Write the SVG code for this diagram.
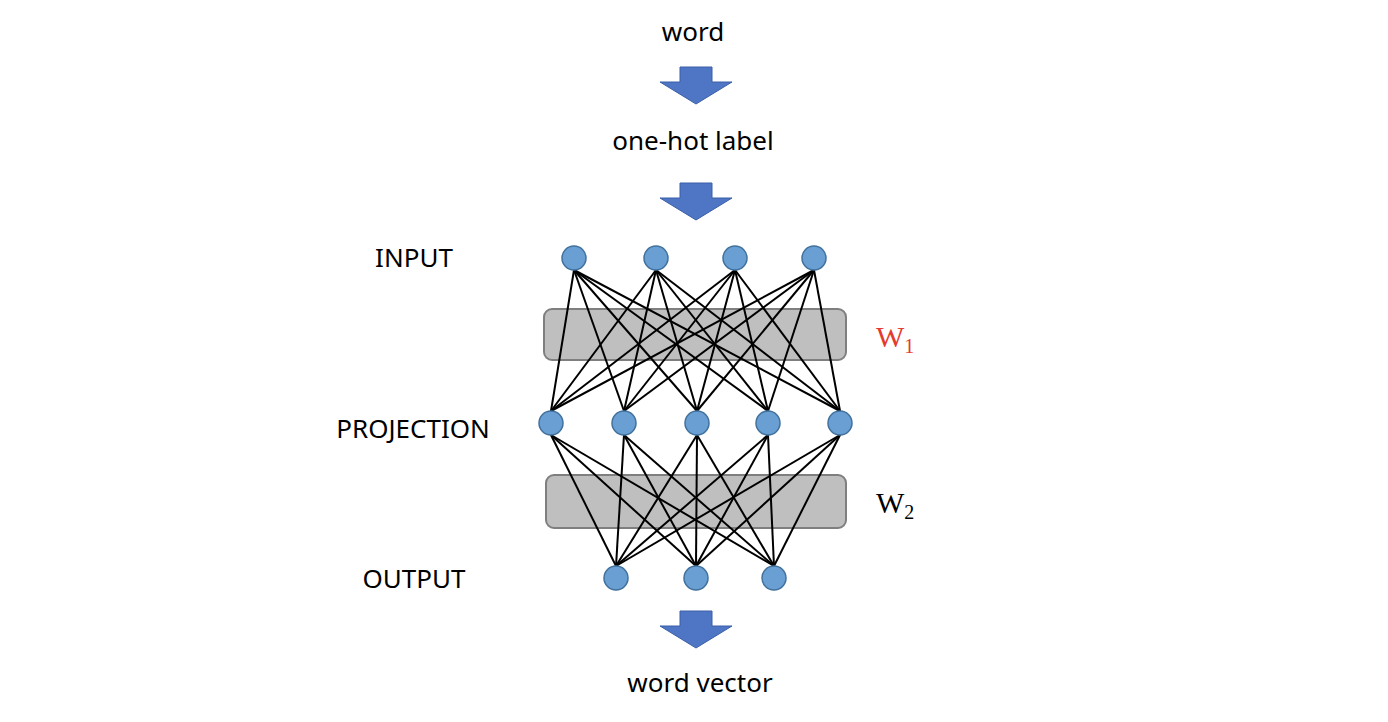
<svg xmlns="http://www.w3.org/2000/svg" width="1388" height="722" viewBox="0 0 1388 722">
<style>
.t{font-family:"Microsoft YaHei","Noto Sans","Liberation Sans",sans-serif;font-size:26px;fill:#000;text-anchor:middle}
.n{fill:#6a9fd4;stroke:#41719c;stroke-width:1.5}
.b{fill:#bfbfbf;stroke:#7f7f7f;stroke-width:2}
.ar{fill:#4f76c4;stroke:#3a5fa8;stroke-width:1}
.c line{stroke:#000;stroke-width:2}
</style>
<rect width="1388" height="722" fill="#fff"/>
<text class="t" x="693" y="41">word</text>
<text class="t" x="693" y="150">one-hot label</text>
<text class="t" x="414" y="267">INPUT</text>
<text class="t" x="413" y="438">PROJECTION</text>
<text class="t" x="414" y="588">OUTPUT</text>
<text class="t" x="700" y="692">word vector</text>
<text x="876" y="347" font-family="Liberation Serif,serif" font-size="30" fill="#e53a2e">W<tspan font-size="20" dy="6">1</tspan></text>
<text x="876" y="513" font-family="Liberation Serif,serif" font-size="30" fill="#000">W<tspan font-size="20" dy="6">2</tspan></text>
<path class="ar" d="M680,67H712V82H732L696,104L660,82H680Z"/>
<path class="ar" d="M680,183H712V198H732L696,220L660,198H680Z"/>
<path class="ar" d="M680,611H712V626H732L696,648L660,626H680Z"/>
<rect id="w1" class="b" x="544" y="309" width="302" height="51" rx="8"/>
<rect id="w2" class="b" x="546" y="475" width="300" height="53" rx="8"/>
<g class="c">
<line x1="574" y1="270" x2="551" y2="411"/><line x1="574" y1="270" x2="624" y2="411"/><line x1="574" y1="270" x2="697" y2="411"/><line x1="574" y1="270" x2="768" y2="411"/><line x1="574" y1="270" x2="840" y2="411"/>
<line x1="656" y1="270" x2="551" y2="411"/><line x1="656" y1="270" x2="624" y2="411"/><line x1="656" y1="270" x2="697" y2="411"/><line x1="656" y1="270" x2="768" y2="411"/><line x1="656" y1="270" x2="840" y2="411"/>
<line x1="735" y1="270" x2="551" y2="411"/><line x1="735" y1="270" x2="624" y2="411"/><line x1="735" y1="270" x2="697" y2="411"/><line x1="735" y1="270" x2="768" y2="411"/><line x1="735" y1="270" x2="840" y2="411"/>
<line x1="814" y1="270" x2="551" y2="411"/><line x1="814" y1="270" x2="624" y2="411"/><line x1="814" y1="270" x2="697" y2="411"/><line x1="814" y1="270" x2="768" y2="411"/><line x1="814" y1="270" x2="840" y2="411"/>
<line x1="551" y1="435" x2="616" y2="566"/><line x1="551" y1="435" x2="696" y2="566"/><line x1="551" y1="435" x2="774" y2="566"/>
<line x1="624" y1="435" x2="616" y2="566"/><line x1="624" y1="435" x2="696" y2="566"/><line x1="624" y1="435" x2="774" y2="566"/>
<line x1="697" y1="435" x2="616" y2="566"/><line x1="697" y1="435" x2="696" y2="566"/><line x1="697" y1="435" x2="774" y2="566"/>
<line x1="768" y1="435" x2="616" y2="566"/><line x1="768" y1="435" x2="696" y2="566"/><line x1="768" y1="435" x2="774" y2="566"/>
<line x1="840" y1="435" x2="616" y2="566"/><line x1="840" y1="435" x2="696" y2="566"/><line x1="840" y1="435" x2="774" y2="566"/>
</g>
<g id="input"><circle class="n" cx="574" cy="258" r="12"/><circle class="n" cx="656" cy="258" r="12"/><circle class="n" cx="735" cy="258" r="12"/><circle class="n" cx="814" cy="258" r="12"/></g>
<g id="projection"><circle class="n" cx="551" cy="423" r="12"/><circle class="n" cx="624" cy="423" r="12"/><circle class="n" cx="697" cy="423" r="12"/><circle class="n" cx="768" cy="423" r="12"/><circle class="n" cx="840" cy="423" r="12"/></g>
<g id="output"><circle class="n" cx="616" cy="578" r="12"/><circle class="n" cx="696" cy="578" r="12"/><circle class="n" cx="774" cy="578" r="12"/></g>
</svg>
